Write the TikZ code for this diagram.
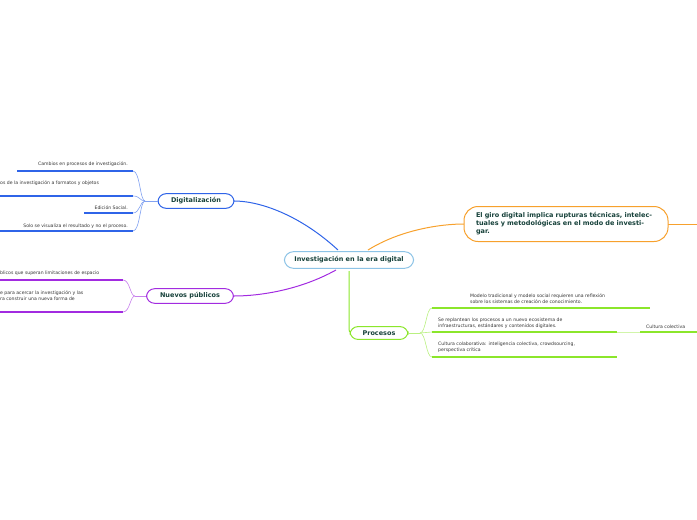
\documentclass[tikz,border=0pt]{standalone}
\usepackage{fontspec}
\setmainfont{DejaVu Sans}
\definecolor{cblue}{HTML}{2F64E8}
\definecolor{cpurp}{HTML}{A22BE0}
\definecolor{cgreen}{HTML}{8BE62B}
\definecolor{corange}{HTML}{F7A12D}
\definecolor{ccent}{HTML}{8CC3E6}
\definecolor{ctext}{HTML}{16413A}
\tikzset{
  topic/.style={draw,rounded corners=8pt,line width=1pt,fill=white,font=\fontsize{6.5}{8}\selectfont\bfseries,text=ctext,inner xsep=6pt,inner ysep=4pt},
  leaf/.style={font=\fontsize{4.6}{6}\selectfont,text=black!80,inner sep=0pt,align=left},
}
\begin{document}
\begin{tikzpicture}[x=1pt,y=-1pt]
\useasboundingbox (0,0) rectangle (697,520);
\clip (0,0) rectangle (697,520);
% main connectors
\draw[cblue,line width=1pt] (338,250) .. controls (300,215) and (260,201) .. (234,201);
\draw[cpurp,line width=1pt] (336,270) .. controls (300,290) and (260,296) .. (234,296);
\draw[cgreen,line width=1pt] (349,271) -- (349,325) .. controls (349,332) .. (352,333);
\draw[corange,line width=1pt] (368,250) .. controls (400,230) and (440,224) .. (464,224);
\draw[corange,line width=0.8pt] (668,224) -- (697,224);
% nodes
\node[topic,draw=ccent,rounded corners=9pt,inner xsep=10pt,inner ysep=5pt] (c) at (349,260) {Investigación en la era digital};
\node[topic,draw=cblue,minimum width=76pt] (d) at (196,201) {Digitalización};
\node[topic,draw=cpurp,minimum width=87pt] (n) at (190,296) {Nuevos públicos};
\node[topic,draw=cgreen,minimum width=58pt] (p) at (379,333) {Procesos};
\node[topic,draw=corange,rounded corners=14pt,minimum width=204pt,minimum height=35pt,align=left,text width=180pt] (o) at (566,224) {El giro digital implica rupturas técnicas, intelectuales y metodológicas en el modo de investigar.};
% Digitalización leaves
\coordinate (dh) at (145,201);
\draw[cblue!60,line width=0.6pt] (d.west) -- (dh);
\foreach \y in {171,196,213,231} \draw[cblue!60,line width=0.6pt] (dh) .. controls (140,201) and (140,\y) .. (133,\y);
\draw[cblue,line width=1.2pt] (17,171) -- (133,171);
\draw[cblue,line width=1.2pt] (0,196) -- (133,196);
\draw[cblue,line width=1.2pt] (84,213) -- (133,213);
\draw[cblue,line width=1.2pt] (0,231) -- (133,231);
\node[leaf,anchor=east] (d1) at (128,164) {Cambios en procesos de investigación.};
\node[leaf,anchor=west] (d2) at (0,183) {os de la investigación a formatos y objetos};
\node[leaf,anchor=east] (d3) at (128,208) {Edición Social.};
\node[leaf,anchor=east] (d4) at (128,226) {Solo se visualiza el resultado y no el proceso.};
% Nuevos públicos leaves
\coordinate (nh) at (135,296);
\draw[cpurp!60,line width=0.6pt] (n.west) -- (nh);
\foreach \y in {280,312} \draw[cpurp!60,line width=0.6pt] (nh) .. controls (130,296) and (130,\y) .. (123,\y);
\draw[cpurp,line width=1.2pt] (0,280) -- (123,280);
\draw[cpurp,line width=1.2pt] (0,312) -- (123,312);
\node[leaf,anchor=west] (n1) at (0,273) {blicos que superan limitaciones de espacio};
\node[leaf,anchor=west] (n2) at (0,295.5) {e para acercar la investigación y las\\ra construir una nueva forma de};
% Procesos leaves
\coordinate (ph) at (420,333);
\draw[cgreen!60,line width=0.6pt] (p.east) -- (ph);
\foreach \y in {308,332,357} \draw[cgreen!60,line width=0.6pt] (ph) .. controls (426,333) and (426,\y) .. (432,\y);
\draw[cgreen,line width=1.2pt] (432,308) -- (650,308);
\draw[cgreen,line width=1.2pt] (432,332) -- (617,332);
\draw[cgreen!40,line width=0.6pt] (617,332) -- (640,332);
\draw[cgreen,line width=1.2pt] (640,332) -- (697,332);
\draw[cgreen,line width=1.2pt] (432,357) -- (617,357);
\node[leaf,anchor=west] (p1) at (470,299) {Modelo tradicional y modelo social requieren una reflexión\\sobre los sistemas de creación de conocimiento.};
\node[leaf,anchor=west] (p2) at (438,323.5) {Se replantean los procesos a un nuevo ecosistema de\\infraestructuras, estándares y contenidos digitales.};
\node[leaf,anchor=west] (p3) at (646,327) {Cultura colectiva};
\node[leaf,anchor=west] (p4) at (438,347.5) {Cultura colaborativa: inteligencia colectiva, crowdsourcing,\\perspectiva crítica};
\end{tikzpicture}
\end{document}
